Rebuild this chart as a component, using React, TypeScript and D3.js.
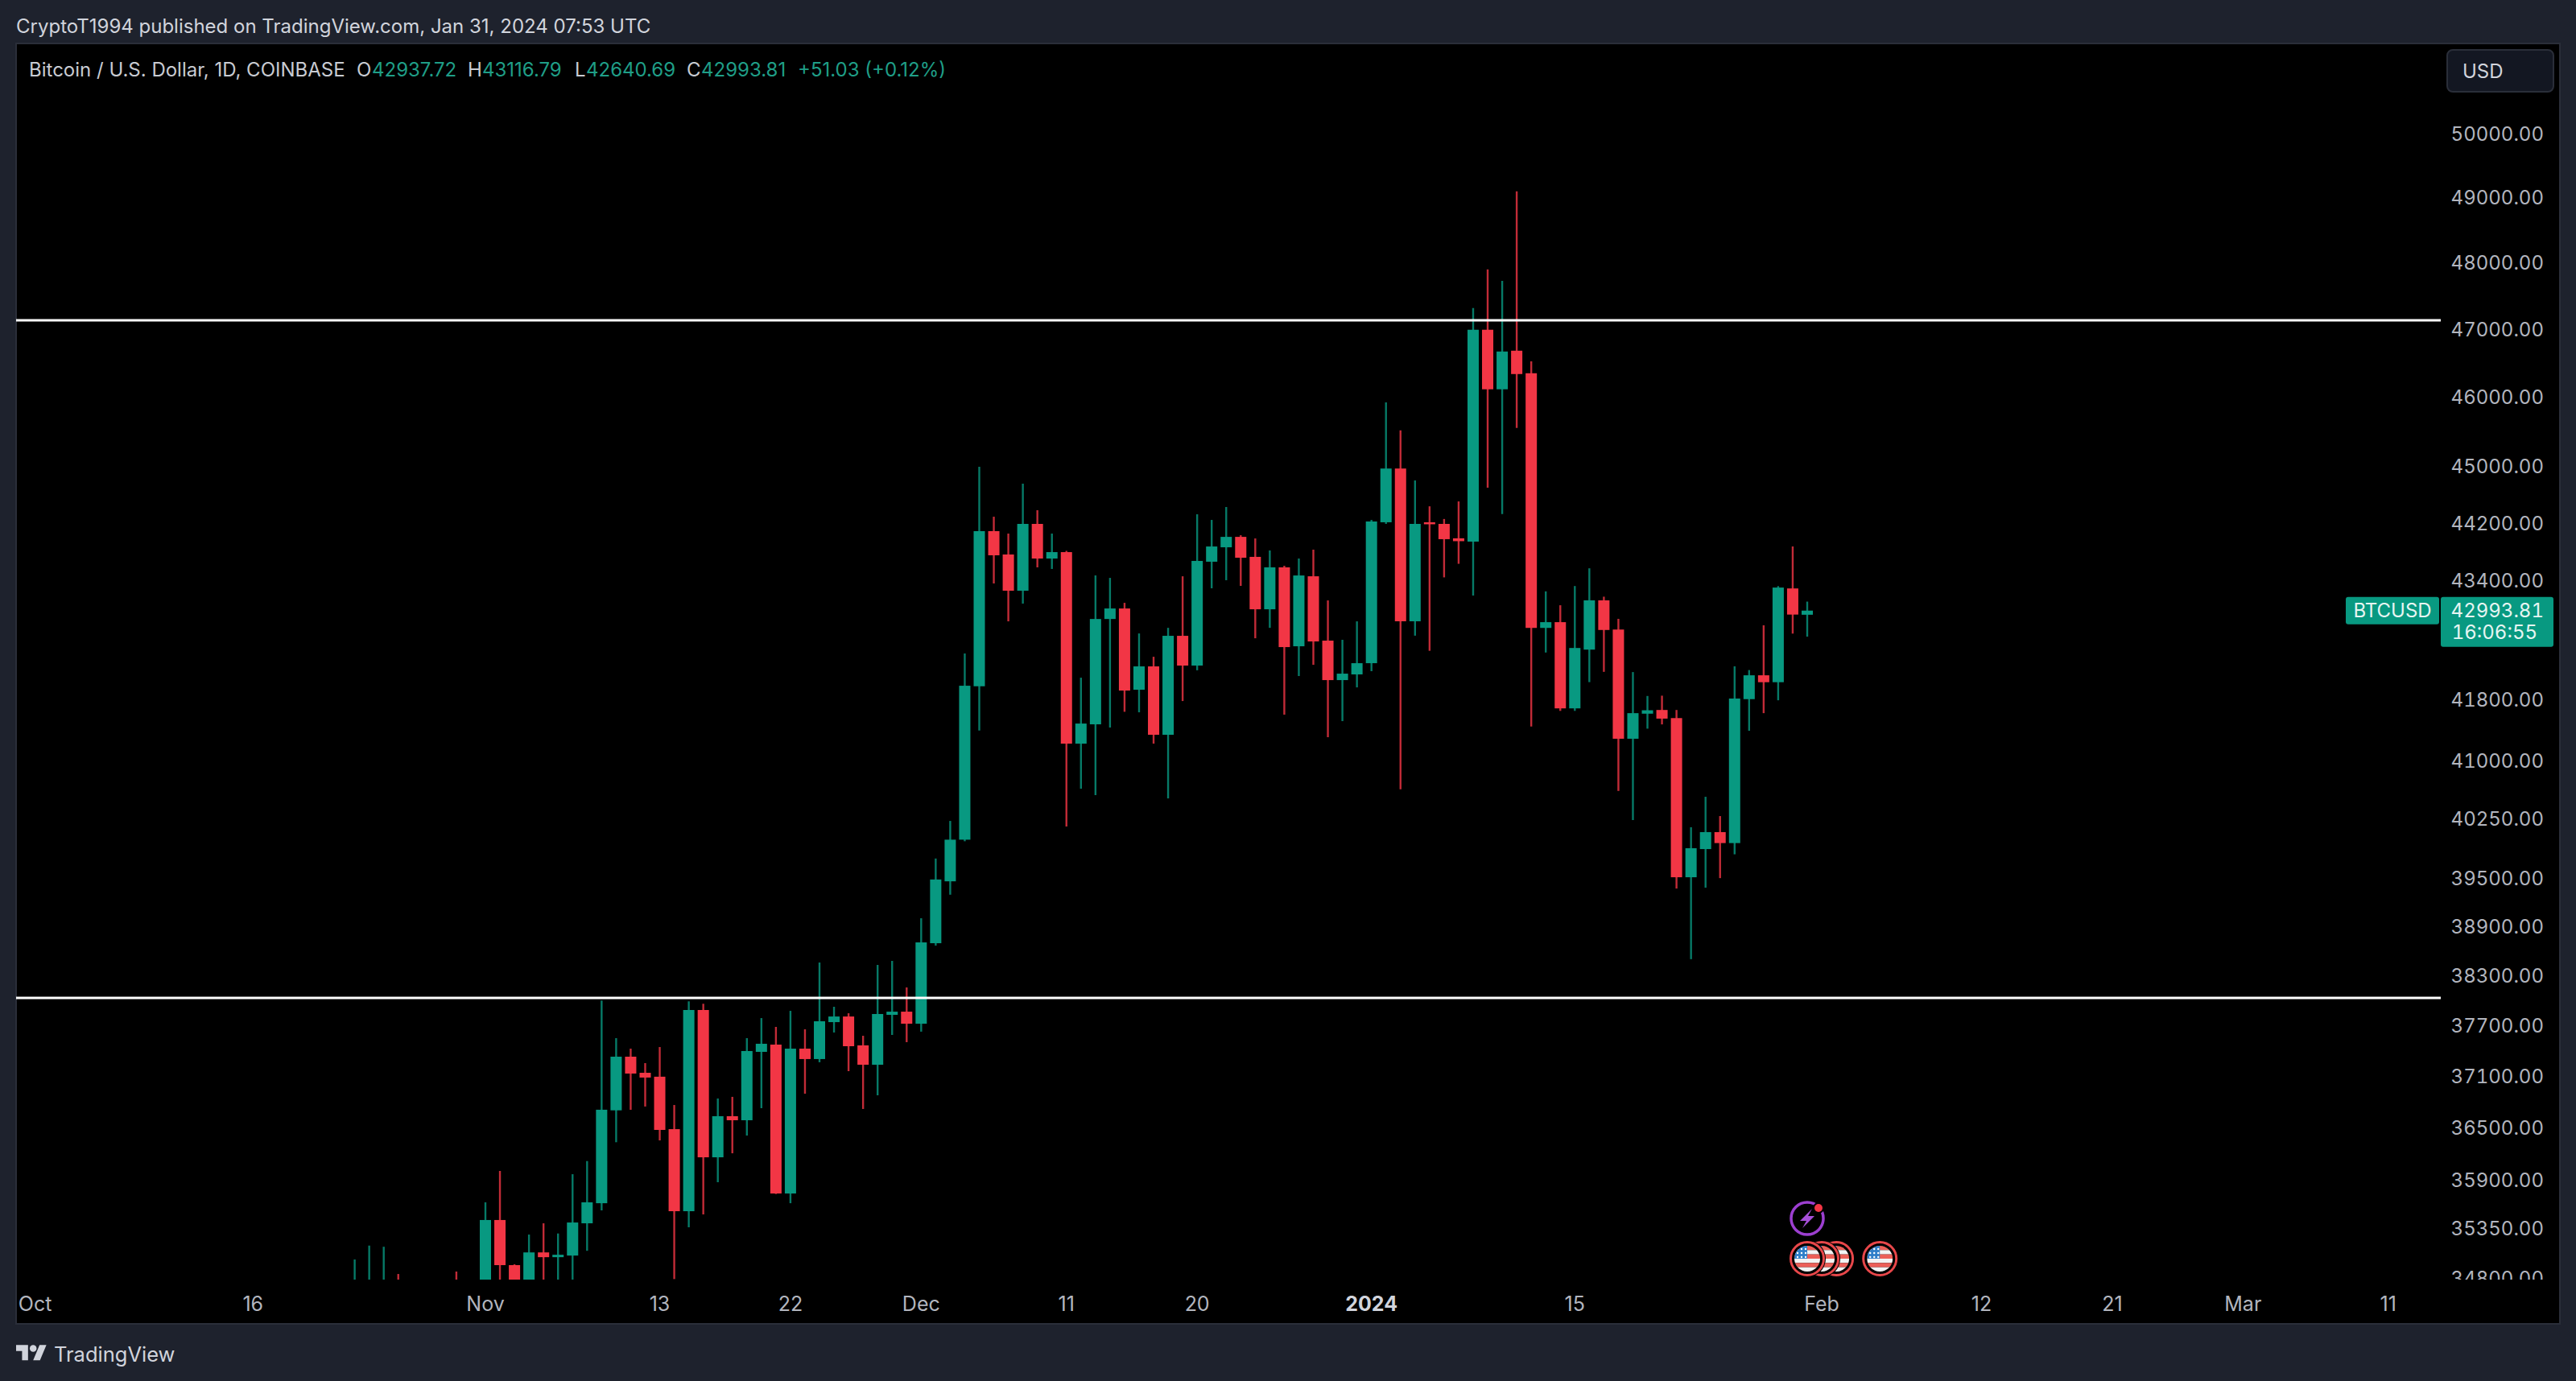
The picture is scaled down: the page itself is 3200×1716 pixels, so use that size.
import React from 'react';
import * as d3 from 'd3';

const WIDTH = 3200;
const HEIGHT = 1716;
const PANE = { left: 20, right: 3180, top: 54, bottom: 1645, plotBottom: 1590, plotRight: 3032 };

const BG = '#1e222d';
const BORDER = '#2a2e39';
const UP = '#089981';
const DOWN = '#f23645';
const LEGEND_UP = '#1f9e87';
const FONT = 'Inter, Roboto, sans-serif';

// first candle is 23 Oct 2023, one value per day up to 31 Jan 2024
const FIRST_DAY = new Date(Date.UTC(2023, 9, 23));

const opens = [
  31000, 33070, 33900, 34500, 33900, 33800, 34080, 34520, 34490,
  // Nov
  34650, 35447, 34944, 34730, 35085, 35032, 35050, 35410, 35636, 36700,
  37329, 37139, 37093, 36482, 35546, 37885, 36158, 36632, 36585, 37386,
  37472, 35746, 37424, 37301, 37740, 37807, 37463, 37234, 37827, 37865,
  // Dec
  37721, 38695, 39461, 39985, 41976, 44090, 43765, 43266, 44191, 43709,
  43798, 41220, 41473, 42880, 43023, 41930, 42241, 41336, 42652, 42252,
  43665, 43865, 44010, 43732, 43012, 43587, 42511, 43464, 42587, 42058, 42134,
  // Jan
  42284, 44214, 44973, 42849, 44214, 44191, 43990, 43944, 46994, 46116,
  46683, 46351, 42759, 42837, 41683, 42466, 43134, 42737, 41284, 41613,
  41662, 41555, 39512, 39866, 40081, 39942, 41805, 42122, 42030, 43297, 42937.72,
];

const highs = [
  35006, 35160, 35148, 34846, 34200, 34450, 34750, 34873, 34700,
  // Nov
  35646, 36002, 34953, 35284, 35410, 35296, 35965, 36115, 37998, 37549,
  37424, 37253, 37443, 36762, 37990, 37961, 36838, 36857, 37549, 37788,
  37683, 37875, 37654, 38459, 37924, 37846, 37577, 38430, 38479, 38157,
  // Dec
  39002, 39747, 40223, 42414, 44998, 44292, 44056, 44758, 44383, 44056,
  43815, 42090, 43475, 43442, 43100, 42684, 42370, 42760, 43464, 44326,
  44247, 44428, 44033, 43988, 43821, 43609, 43709, 43832, 43133, 42598, 42848,
  // Jan
  44247, 45925, 45520, 44804, 44438, 44260, 44507, 47319, 47901, 47727,
  49100, 46526, 43257, 43067, 43330, 43574, 43184, 42882, 42165, 41847,
  41851, 41662, 40143, 40532, 40285, 42242, 42192, 42794, 43329, 43877, 43116.79,
];

const lows = [
  30900, 32850, 33700, 33700, 33400, 33800, 34050, 34050, 34100,
  // Nov
  34100, 34320, 34100, 34570, 34500, 34730, 34520, 35103, 35555, 36331,
  36706, 36744, 36352, 34790, 35365, 35510, 35874, 36204, 36408, 36725,
  35740, 35636, 36894, 37263, 37616, 37158, 36716, 36875, 37587, 37501,
  // Dec
  37626, 38666, 39294, 39965, 41392, 43365, 42848, 43089, 43587, 43565,
  40152, 40636, 40553, 41431, 41638, 41631, 41220, 40511, 41780, 42189,
  43299, 43410, 43332, 42619, 42760, 41600, 42112, 42262, 41304, 41515, 41961,
  // Jan
  42177, 44191, 40628, 42654, 42450, 43449, 43636, 43200, 44700, 44329,
  45555, 41445, 42427, 41650, 41650, 42031, 42168, 40607, 40234, 41416,
  41472, 39371, 38500, 39382, 39501, 39800, 41389, 41620, 41790, 42682, 42640.69,
];

const closes = [
  33900, 33900, 34500, 33900, 33800, 34080, 34520, 34490, 34650,
  // Nov
  35447, 34944, 34730, 35085, 35032, 35059, 35419, 35646, 36707, 37329,
  37130, 37083, 36473, 35546, 37885, 36158, 36632, 36585, 37396, 37482,
  35746, 37424, 37301, 37750, 37807, 37453, 37234, 37837, 37865, 37721,
  // Dec
  38705, 39484, 39985, 41983, 44090, 43754, 43266, 44191, 43709, 43798,
  41220, 41483, 42880, 43023, 41919, 42241, 41336, 42652, 42252, 43676,
  43876, 44010, 43720, 43012, 43587, 42500, 43475, 42576, 42058, 42144, 42284,
  // Jan
  44225, 44973, 42849, 44191, 44186, 43978, 43950, 46994, 46116, 46671,
  46339, 42759, 42837, 41683, 42488, 43134, 42731, 41284, 41620, 41658,
  41548, 39512, 39877, 40081, 39942, 41813, 42122, 42030, 43309, 42940, 42993.81,
];

const priceTicks = [
  50000, 49000, 48000, 47000, 46000, 45000, 44200, 43400, 41800, 41000, 40250, 39500, 38900,
  38300, 37700, 37100, 36500, 35900, 35350, 34800,
];

const timeLabels = ['Oct', '16', 'Nov', '13', '22', 'Dec', '11', '20', '2024', '15', 'Feb', '12', '21', 'Mar', '11'];
const timeDates = [
  Date.UTC(2023, 9, 1), Date.UTC(2023, 9, 16), Date.UTC(2023, 10, 1), Date.UTC(2023, 10, 13), Date.UTC(2023, 10, 22),
  Date.UTC(2023, 11, 1), Date.UTC(2023, 11, 11), Date.UTC(2023, 11, 20), Date.UTC(2024, 0, 1), Date.UTC(2024, 0, 15),
  Date.UTC(2024, 1, 1), Date.UTC(2024, 1, 12), Date.UTC(2024, 1, 21), Date.UTC(2024, 2, 1), Date.UTC(2024, 2, 11),
];

const levelLines = [47135, 38029];
const lastPrice = 42993.81;
const lastCountdown = '16:06:55';
const flagDates = [Date.UTC(2024, 1, 5), Date.UTC(2024, 1, 2), Date.UTC(2024, 1, 1), Date.UTC(2024, 0, 31)];
const boltDate = Date.UTC(2024, 0, 31);

// legend pieces: text, x, green or not
const legendParts: [string, number, boolean][] = [
  ['Bitcoin / U.S. Dollar, 1D, COINBASE', 36, false],
  ['O', 443, false],
  ['42937.72', 462, true],
  ['H', 581, false],
  ['43116.79', 599, true],
  ['L', 714, false],
  ['42640.69', 728, true],
  ['C', 853, false],
  ['42993.81', 871, true],
  ['+51.03 (+0.12%)', 991, true],
];

const x = d3
  .scaleUtc()
  .domain([Date.UTC(2023, 10, 1), Date.UTC(2024, 0, 31)])
  .range([603, 2245]);
const y = d3.scaleLog().domain([50000, 35350]).range([166.5, 1526.7]);

const BODY_W = 14;

const UsFlag: React.FC<{ cx: number; cy: number }> = ({ cx, cy }) => {
  const id = `flag-${Math.round(cx)}`;
  const r = 16;
  const bands = d3.range(6);
  const bandH = (2 * r) / bands.length;
  const stars = d3.cross(d3.range(3), d3.range(3));
  return (
    <g>
      <circle cx={cx} cy={cy} r={23} fill="#000" />
      <circle cx={cx} cy={cy} r={20.5} fill="#000" stroke="#e8474a" strokeWidth={3} />
      <clipPath id={id}>
        <circle cx={cx} cy={cy} r={r} />
      </clipPath>
      <g clipPath={`url(#${id})`}>
        {bands.map(i => (
          <rect
            key={i}
            x={cx - r}
            y={cy - r + i * bandH}
            width={2 * r}
            height={bandH}
            fill={i % 2 === 0 ? '#ec5f58' : '#f3f3f3'}
          />
        ))}
        <rect x={cx - r} y={cy - r} width={r} height={r} fill="#2f7fc9" />
        {stars.map(([a, b]) => (
          <circle key={`${a}-${b}`} cx={cx - r + 4 + a * 5} cy={cy - r + 4 + b * 5} r={1.2} fill="#fff" />
        ))}
      </g>
    </g>
  );
};

const App: React.FC = () => {
  const days = opens.map((_, i) => d3.utcDay.offset(FIRST_DAY, i));
  const lastY = y(lastPrice);

  return (
    <svg
      width={WIDTH}
      height={HEIGHT}
      viewBox={`0 0 ${WIDTH} ${HEIGHT}`}
      style={{ position: 'absolute', left: 0, top: 0, display: 'block' }}
      fontFamily={FONT}
    >
      <defs>
        <clipPath id="plot">
          <rect x={PANE.left} y={PANE.top} width={PANE.plotRight - PANE.left} height={PANE.plotBottom - PANE.top} />
        </clipPath>
        <clipPath id="price-axis">
          <rect x={PANE.plotRight} y={PANE.top} width={PANE.right - PANE.plotRight} height={PANE.plotBottom - PANE.top} />
        </clipPath>
      </defs>

      <rect width={WIDTH} height={HEIGHT} fill={BG} />
      <rect
        x={PANE.left}
        y={PANE.top}
        width={PANE.right - PANE.left}
        height={PANE.bottom - PANE.top}
        fill="#000"
        stroke={BORDER}
        strokeWidth={2}
      />

      <text x={20} y={32} fill="#d1d4dc" fontSize={24} dominantBaseline="central">
        CryptoT1994 published on TradingView.com, Jan 31, 2024 07:53 UTC
      </text>

      {/* candles */}
      <g clipPath="url(#plot)">
        {days.map((day, i) => {
          const up = closes[i] >= opens[i];
          const color = up ? UP : DOWN;
          const cx = x(day);
          const top = y(Math.max(opens[i], closes[i]));
          const bottom = y(Math.min(opens[i], closes[i]));
          return (
            <g key={i}>
              <line x1={cx} x2={cx} y1={y(highs[i])} y2={y(lows[i])} stroke={color} strokeWidth={2.4} strokeOpacity={0.8} />
              <rect x={cx - BODY_W / 2} y={top} width={BODY_W} height={Math.max(bottom - top, 2)} fill={color} />
            </g>
          );
        })}
      </g>

      {levelLines.map(level => (
        <line
          key={level}
          x1={PANE.left}
          x2={PANE.plotRight}
          y1={y(level)}
          y2={y(level)}
          stroke="#fff"
          strokeWidth={3}
        />
      ))}

      {/* price axis */}
      <g clipPath="url(#price-axis)" style={{ fontVariantNumeric: 'tabular-nums' }}>
        {priceTicks.map(t => (
          <text
            key={t}
            x={3160}
            y={y(t)}
            fill="#b2b5be"
            fontSize={24}
            textAnchor="end"
            dominantBaseline="central"
          >
            {d3.format('.2f')(t)}
          </text>
        ))}
      </g>

      <rect x={3040} y={62} width={132} height={52} rx={7} fill="#131722" stroke={BORDER} strokeWidth={2} />
      <text x={3059} y={88} fill="#d1d4dc" fontSize={24} dominantBaseline="central">
        USD
      </text>

      {/* last price labels */}
      <rect x={2914} y={lastY - 17} width={116} height={34} rx={3} fill={UP} />
      <text x={2972} y={lastY} fill="#e6f5f2" fontSize={24} textAnchor="middle" dominantBaseline="central">
        BTCUSD
      </text>
      <rect x={3032} y={lastY - 17} width={140} height={62} rx={3} fill={UP} />
      <g style={{ fontVariantNumeric: 'tabular-nums' }}>
        <text x={3160} y={lastY} fill="#e6f5f2" fontSize={24} textAnchor="end" dominantBaseline="central">
          {d3.format('.2f')(lastPrice)}
        </text>
        <text x={3152} y={lastY + 27} fill="#e6f5f2" fontSize={24} textAnchor="end" dominantBaseline="central">
          {lastCountdown}
        </text>
      </g>

      {/* time axis */}
      {timeLabels.map((label, i) => (
        <text
          key={timeDates[i]}
          x={x(timeDates[i])}
          y={1620}
          fill={label === '2024' ? '#d1d4dc' : '#b2b5be'}
          fontSize={25}
          fontWeight={label === '2024' ? 700 : 400}
          textAnchor="middle"
          dominantBaseline="central"
        >
          {label}
        </text>
      ))}

      {/* legend */}
      {legendParts.map(([text, px, green]) => (
        <text key={`${text}-${px}`} x={px} y={86} fill={green ? LEGEND_UP : '#c8cbd2'} fontSize={24} dominantBaseline="central">
          {text}
        </text>
      ))}

      {/* events */}
      <g>
        <circle cx={x(boltDate)} cy={1514} r={20} fill="#000" stroke="#9c3fd0" strokeWidth={3.5} />
        <path
          transform={`translate(${x(boltDate)},1514)`}
          d="M6,-12 L-9,3 L-1,3 L-6,12 L9,-3 L1,-3 Z"
          fill="#a64fd9"
        />
        <circle cx={x(boltDate) + 14} cy={1501} r={7} fill="#000" />
        <circle cx={x(boltDate) + 14} cy={1501} r={5} fill={DOWN} />
      </g>
      {flagDates.map(d => (
        <UsFlag key={d} cx={x(d)} cy={1564} />
      ))}

      {/* footer logo */}
      <g transform="translate(20,1667) scale(1.06)" fill="#d1d4dc">
        <path d="M14 22H7V11H0V4h14v18zM28 22h-8l7.5-18h8L28 22z" />
        <circle cx={20} cy={8} r={4} />
      </g>
      <text x={67} y={1682} fill="#d1d4dc" fontSize={25.5} dominantBaseline="central">
        TradingView
      </text>
    </svg>
  );
};

export default App;
